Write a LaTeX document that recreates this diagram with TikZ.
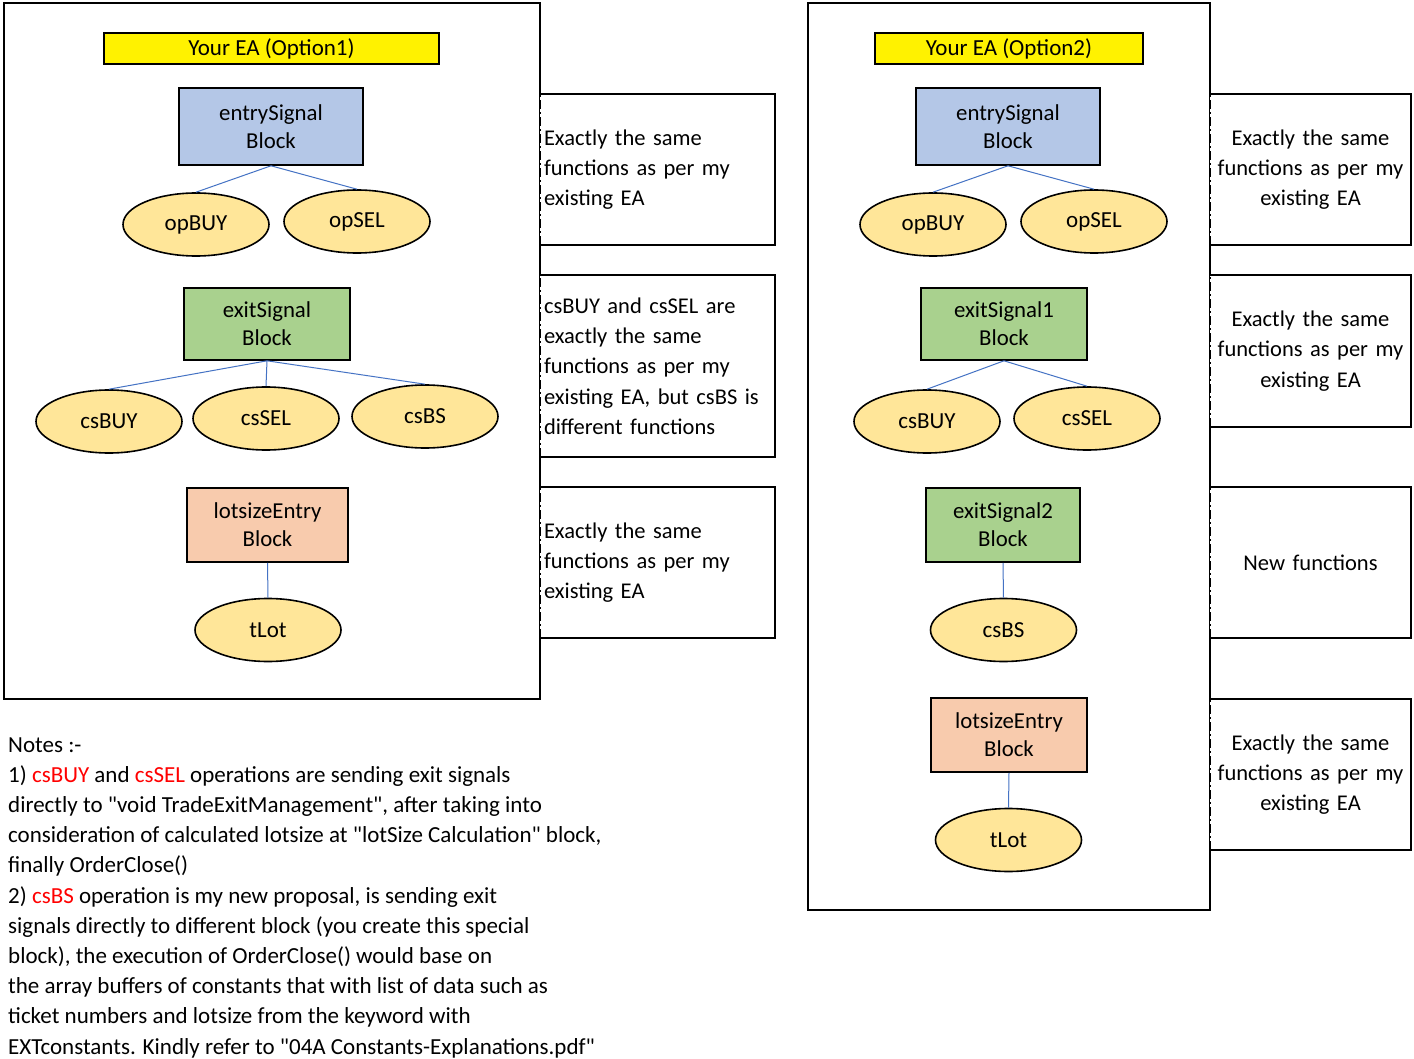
\documentclass[tikz,border=0pt]{standalone}
\usepackage{fontspec}
\setmainfont{Carlito}
\usetikzlibrary{shapes.geometric}
\definecolor{entryblue}{HTML}{B4C7E7}
\definecolor{exitgreen}{HTML}{A9D18E}
\definecolor{lotorange}{HTML}{F8CBAD}
\definecolor{opyellow}{HTML}{FFE699}
\definecolor{linkblue}{HTML}{4472C4}
\definecolor{notered}{HTML}{FF0000}
\newcommand{\dq}{\textquotedbl}
\begin{document}
\begin{tikzpicture}[x=1pt,y=-1pt,
  container/.style={draw, line width=1.6pt},
  titlebox/.style={draw, fill=yellow, line width=1.6pt, inner sep=0pt, font=\fontsize{23}{26}\selectfont},
  blockbox/.style={draw, line width=1.6pt, inner sep=0pt, align=center, font=\fontsize{22.8}{28}\selectfont},
  opnode/.style={ellipse, draw, line width=1.6pt, fill=opyellow, minimum width=146pt, minimum height=63pt, inner sep=0pt, font=\fontsize{23}{26}\selectfont},
  link/.style={draw=linkblue, line width=1pt},
  calloutL/.style={fill=white, minimum width=235pt, minimum height=151pt, inner sep=4pt, text width=227pt, align=left, font=\fontsize{22.5}{30.3}\selectfont},
  calloutR/.style={fill=white, minimum width=201pt, minimum height=151pt, inner sep=4pt, text width=193pt, align=center, font=\fontsize{22.5}{30.3}\selectfont},
  solidedge/.style={draw, line width=1.6pt},
  dashedge/.style={draw, line width=1.6pt, dash pattern=on 9pt off 3pt on 2pt off 3pt},
  notetext/.style={anchor=base west, inner sep=0pt, font=\fontsize{23}{26}\selectfont}
]
\useasboundingbox (0,0) rectangle (1414,1059);
\fill[white] (0,0) rectangle (1414,1059);

% ---------------- Left container (Option1) ----------------
\draw[container] (4,3) rectangle (540,699);
\node[titlebox, minimum width=335pt, minimum height=31pt] (t1) at (271.5,48.5) {Your EA (Option1)};

\node[blockbox, fill=entryblue, minimum width=184pt, minimum height=77pt] (e1) at (271,126.5) {entrySignal\\Block};
\node[opnode] (ob1) at (196,224.5) {opBUY};
\node[opnode] (os1) at (357,221.5) {opSEL};
\draw[link] (e1.south) -- (ob1.north);
\draw[link] (e1.south) -- (os1.north);

\node[blockbox, fill=exitgreen, minimum width=166pt, minimum height=72pt] (x1) at (267,324) {exitSignal\\Block};
\node[opnode] (cb1) at (109,421.5) {csBUY};
\node[opnode] (cs1) at (266,418.5) {csSEL};
\node[opnode] (cbs1) at (425,416.5) {csBS};
\draw[link] (x1.south) -- (cb1.north);
\draw[link] (x1.south) -- (cs1.north);
\draw[link] (x1.south) -- (cbs1.north);

\node[blockbox, fill=lotorange, minimum width=161pt, minimum height=74pt] (l1) at (267.5,525) {lotsizeEntry\\Block};
\node[opnode] (tl1) at (268,630) {tLot};
\draw[link] (l1.south) -- (tl1.north);

% left callouts
\node[calloutL] (c1) at (657.5,169.5) {Exactly the same\\functions as per my\\existing EA};
\node[calloutL, minimum height=182pt] (c2) at (657.5,366) {csBUY and csSEL are\\exactly the same\\functions as per my\\existing EA, but csBS is\\different functions};
\node[calloutL] (c3) at (657.5,562.5) {Exactly the same\\functions as per my\\existing EA};
\foreach \c in {c1,c2,c3}{
  \draw[solidedge] (\c.north west) -- (\c.north east) -- (\c.south east) -- (\c.south west);
  \draw[dashedge] (\c.south west) -- (\c.north west);
}

% ---------------- Right container (Option2) ----------------
\draw[container] (808,3) rectangle (1210,910);
\node[titlebox, minimum width=268pt, minimum height=31pt] (t2) at (1009,48.5) {Your EA (Option2)};

\node[blockbox, fill=entryblue, minimum width=184pt, minimum height=77pt] (e2) at (1008,126.5) {entrySignal\\Block};
\node[opnode] (ob2) at (933,224.5) {opBUY};
\node[opnode] (os2) at (1094,221.5) {opSEL};
\draw[link] (e2.south) -- (ob2.north);
\draw[link] (e2.south) -- (os2.north);

\node[blockbox, fill=exitgreen, minimum width=166pt, minimum height=72pt] (x2) at (1004,324) {exitSignal1\\Block};
\node[opnode] (cb2) at (927,421.5) {csBUY};
\node[opnode] (cs2) at (1087,418.5) {csSEL};
\draw[link] (x2.south) -- (cb2.north);
\draw[link] (x2.south) -- (cs2.north);

\node[blockbox, fill=exitgreen, minimum width=154pt, minimum height=74pt] (y2) at (1003,525) {exitSignal2\\Block};
\node[opnode] (cbs2) at (1003.5,630) {csBS};
\draw[link] (y2.south) -- (cbs2.north);

\node[blockbox, fill=lotorange, minimum width=156pt, minimum height=74pt] (l2) at (1009,735) {lotsizeEntry\\Block};
\node[opnode] (tl2) at (1008.5,840) {tLot};
\draw[link] (l2.south) -- (tl2.north);

% right callouts
\node[calloutR] (d1) at (1310.5,169.5) {Exactly the same\\functions as per my\\existing EA};
\node[calloutR, minimum height=152pt] (d2) at (1310.5,351) {Exactly the same\\functions as per my\\existing EA};
\node[calloutR] (d3) at (1310.5,562.5) {New functions};
\node[calloutR] (d4) at (1310.5,774.5) {Exactly the same\\functions as per my\\existing EA};
\foreach \c in {d1,d2,d3,d4}{
  \draw[solidedge] (\c.north west) -- (\c.north east) -- (\c.south east) -- (\c.south west);
  \draw[dashedge] (\c.south west) -- (\c.north west);
}

% ---------------- Notes ----------------
\node[notetext] (n1) at (8,752) {Notes :-};
\node[notetext] (n2) at (8,782) {1) \textcolor{notered}{csBUY} and \textcolor{notered}{csSEL} operations are sending exit signals};
\node[notetext] (n3) at (8,812) {directly to \dq void TradeExitManagement\dq, after taking into};
\node[notetext] (n4) at (8,842) {consideration of calculated lotsize at \dq lotSize Calculation\dq\ block,};
\node[notetext] (n5) at (8,872) {finally OrderClose()};
\node[notetext] (n6) at (8,903) {2) \textcolor{notered}{csBS} operation is my new proposal, is sending exit};
\node[notetext] (n7) at (8,933) {signals directly to different block (you create this special};
\node[notetext] (n8) at (8,963) {block), the execution of OrderClose() would base on};
\node[notetext] (n9) at (8,993) {the array buffers of constants that with list of data such as};
\node[notetext] (n10) at (8,1023) {ticket numbers and lotsize from the keyword with};
\node[notetext] (n11) at (8,1054) {EXTconstants. Kindly refer to \dq 04A Constants-Explanations.pdf\dq};
\end{tikzpicture}
\end{document}
